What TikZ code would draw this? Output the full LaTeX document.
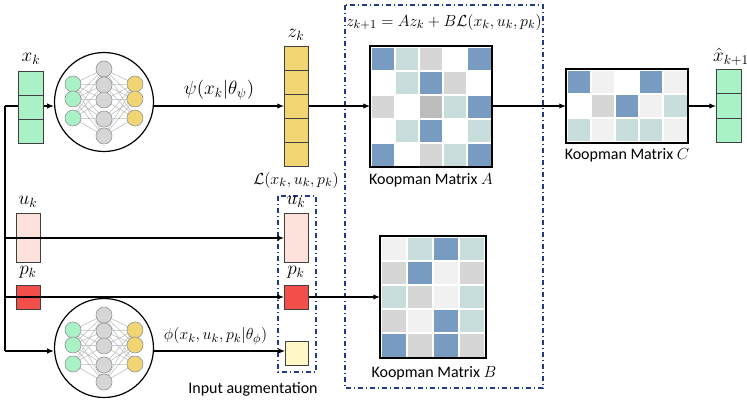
\documentclass[tikz,border=0pt]{standalone}
\usepackage{fontspec}
\setmainfont{Carlito}
\usetikzlibrary{arrows.meta,calc}
\definecolor{cB}{HTML}{789CC1}
\definecolor{cT}{HTML}{C8DEDC}
\definecolor{cG}{HTML}{D6D6D6}
\definecolor{cD}{HTML}{BDBDBD}
\definecolor{cL}{HTML}{F1F1F1}
\definecolor{cW}{HTML}{FFFFFF}
\definecolor{cgreen}{HTML}{A8F2C6}
\definecolor{cyel}{HTML}{F1D572}
\definecolor{cpink}{HTML}{FDE2DB}
\definecolor{cred}{HTML}{F24E4A}
\definecolor{clyel}{HTML}{FFF7C6}
\definecolor{cnavy}{HTML}{1F3A8A}
\definecolor{cnn}{HTML}{BBBBBB}
\tikzset{
 arr/.style={-{Latex[length=5pt,width=4pt]},line width=0.8pt},
 ln/.style={line width=0.8pt},
 cell/.style={draw=black!75,line width=0.6pt},
 lab/.style={font=\fontsize{12}{14}\selectfont},
 mlab/.style={font=\fontsize{14}{16}\selectfont},
 slab/.style={font=\fontsize{13}{15}\selectfont},
 dd/.style={draw=cnavy,line width=0.9pt,dash pattern=on 4pt off 2pt on 1pt off 2pt},
 neu/.style={circle,minimum size=12pt,inner sep=0,draw=gray!80,line width=0.5pt},
}
\newcommand{\kmat}[6]{%
 \foreach \row [count=\r from 0] in {#6}{%
  \foreach \c [count=\q from 0] in \row{%
   \fill[\c] ($(#2+\q*#4+1,#3+\r*#5+1)$) rectangle ($(#2+\q*#4+#4-1,#3+\r*#5+#5-1)$);}}%
}
\newcommand{\nnet}[3]{%
 \begin{scope}[shift={(#1,#2)}]
 \foreach \a in {-15,0,19}{\foreach \b in {-30,-14,1,20,37}{
  \draw[cnn,line width=0.4pt] (-31,\a) -- (0,\b) -- (31,\a);}}
 \foreach \a in {-15,0,19}{\node[neu,fill=cgreen] at (-31,\a){};\node[neu,fill=cyel] at (31,\a){};}
 \foreach \b in {-30,-14,1,20,37}{\node[neu,fill=cG] at (0,\b){};}
 \end{scope}
 \node[circle,draw,line width=0.9pt,minimum size=99pt*0.75,inner sep=0] (#3) at (#1,#2+3){};
}
\begin{document}
\begin{tikzpicture}[x=0.75pt,y=-0.75pt]
\useasboundingbox (0,0) rectangle (747,411);
\draw[dd] (345,5) rectangle (543,388);
\draw[dd] (278,196) rectangle (316,372);
\node[draw=black!75,fill=cgreen,line width=0.8pt,minimum width=25*0.75pt,minimum height=72*0.75pt,inner sep=0,anchor=north west] (xk) at (18,71){};
\draw[cell] (18,95) -- (43,95) (18,119) -- (43,119);
\node[mlab] (xkl) at (31,59) {$x_k$};
\nnet{104}{99}{nn1}
\node[draw=black!75,fill=cyel,line width=0.8pt,minimum width=24*0.75pt,minimum height=120*0.75pt,inner sep=0,anchor=north west] (zk) at (284,46){};
\foreach \i in {1,...,4}{\draw[cell] (284,46+24*\i) -- (308,46+24*\i);}
\node[mlab] (zkl) at (296,35) {$z_k$};
\node[slab] (Ll) at (296,180) {$\mathcal{L}(x_k,u_k,p_k)$};
\node[minimum width=122*0.75pt,minimum height=121*0.75pt,inner sep=0,anchor=north west] (A) at (370,46){};
\kmat{A}{370.5}{46.5}{24.2}{24}{{cB,cT,cG,cW,cB},{cW,cT,cB,cG,cW},{cG,cW,cD,cT,cB},{cW,cT,cB,cW,cT},{cB,cW,cG,cT,cB}}
\draw[line width=0.9pt] (370,46) rectangle (492,167);
\node[lab] (Al) at (431,180) {Koopman Matrix $A$};
\node[slab] (eq) at (444,22) {$z_{k+1}=Az_k+B\mathcal{L}(x_k,u_k,p_k)$};
\node[minimum width=122*0.75pt,minimum height=74*0.75pt,inner sep=0,anchor=north west] (C) at (566,69){};
\kmat{C}{566.5}{69.5}{24.2}{24.3}{{cB,cL,cW,cB,cL},{cW,cG,cB,cL,cT},{cT,cL,cT,cT,cL}}
\draw[line width=0.9pt] (566,69) rectangle (688,143);
\node[lab] (Cl) at (627,155) {Koopman Matrix $C$};
\node[draw=black!75,fill=cgreen,line width=0.8pt,minimum width=25*0.75pt,minimum height=73*0.75pt,inner sep=0,anchor=north west] (xh) at (716,69){};
\draw[cell] (716,93) -- (741,93) (716,118) -- (741,118);
\node[mlab] (xhl) at (731,57) {$\hat{x}_{k+1}$};
\node[draw=black!75,fill=cpink,line width=0.8pt,minimum width=24*0.75pt,minimum height=49*0.75pt,inner sep=0,anchor=north west] (ul) at (16,213){};
\node[mlab] (ull) at (28,202) {$u_k$};
\node[draw=black!75,fill=cpink,line width=0.8pt,minimum width=24*0.75pt,minimum height=49*0.75pt,inner sep=0,anchor=north west] (ur) at (284,213){};
\node[mlab] (url) at (296,202) {$u_k$};
\node[draw=black!75,fill=cred,line width=0.8pt,minimum width=24*0.75pt,minimum height=24*0.75pt,inner sep=0,anchor=north west] (pl) at (16,285){};
\node[mlab] (pll) at (28,272) {$p_k$};
\node[draw=black!75,fill=cred,line width=0.8pt,minimum width=24*0.75pt,minimum height=24*0.75pt,inner sep=0,anchor=north west] (pr) at (284,285){};
\node[mlab] (prl) at (296,272) {$p_k$};
\node[draw=black!75,fill=clyel,line width=0.8pt,minimum width=23*0.75pt,minimum height=24*0.75pt,inner sep=0,anchor=north west] (ya) at (285,341){};
\node[lab] (ial) at (253,389) {Input augmentation};
\nnet{104}{345}{nn2}
\node[minimum width=106*0.75pt,minimum height=122*0.75pt,inner sep=0,anchor=north west] (B) at (380,236){};
\kmat{B}{380.5}{236.5}{26.2}{24.2}{{cL,cT,cB,cT},{cG,cB,cL,cG},{cT,cG,cL,cT},{cG,cL,cB,cT},{cB,cG,cB,cG}}
\draw[line width=0.9pt] (380,236) rectangle (486,358);
\node[lab] (Bl) at (434,373) {Koopman Matrix $B$};
\coordinate (lt) at (5,106);
\coordinate (lb) at (5,351);
\draw[ln] (lt) -- (xk.west|-lt);
\draw[ln] (lt) -- (lb);
\draw[arr] (xk.east|-lt) -- (nn1.west|-lt);
\draw[arr] (nn1.east|-lt) -- node[mlab,above=1pt]{$\psi\big(x_k|\theta_\psi\big)$} (zk.west|-lt);
\draw[arr] (zk.east|-lt) -- (A.west|-lt);
\draw[arr] (A.east|-lt) -- (C.west|-lt);
\draw[arr] (C.east|-lt) -- (xh.west|-lt);
\draw[arr] (5,238) -- (ur.west|-0,238);
\draw[arr] (5,297) -- (pr.west|-0,297);
\draw[arr] (pr.east|-0,297) -- (B.west|-0,297);
\draw[arr] (lb) -- (nn2.west|-lb);
\draw[arr] (nn2.east|-lb) -- node[slab,above=1pt,pos=0.47]{$\phi\big(x_k,u_k,p_k|\theta_\phi\big)$} (ya.west|-lb);
\end{tikzpicture}
\end{document}
